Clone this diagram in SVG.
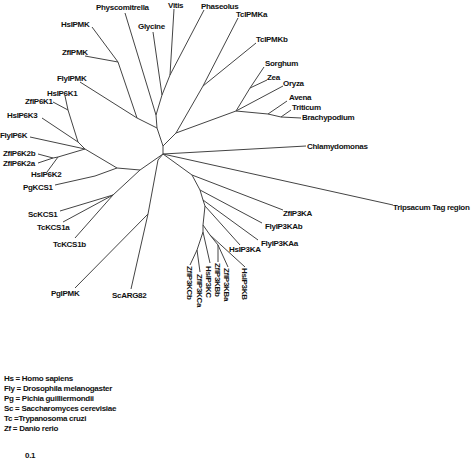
<svg xmlns="http://www.w3.org/2000/svg" width="474" height="459" viewBox="0 0 474 459">
<style>
text{font-family:"Liberation Sans",Arial,sans-serif;font-size:8px;font-weight:bold;letter-spacing:-0.3px;fill:#111}
.e{stroke:#444;stroke-width:1;fill:none}
</style>
<rect width="474" height="459" fill="#fff"/>
<g id="connectors" class="e">
<path d="M163,146 L163,154"/>
<path d="M163,146 L157,128 L137,118 L80,82"/>
<path d="M137,118 L118,62 L92,27"/>
<path d="M118,62 L85,56"/>
<path d="M157,128 L156,115 L125,13"/>
<path d="M156,115 L162,95 L153,32"/>
<path d="M162,95 L170,75 L174,9"/>
<path d="M170,75 L204,10"/>
<path d="M163,146 L176,133 L203,86 L238,18"/>
<path d="M203,86 L256,43"/>
<path d="M176,133 L236,111 L250,88 L264,67"/>
<path d="M250,88 L267,80"/>
<path d="M236,111 L283,86"/>
<path d="M236,111 L268,114 L287,101"/>
<path d="M268,114 L281,117 L291,110"/>
<path d="M281,117 L301,118"/>
<path d="M163,154 L306,146"/>
<path d="M163,154 L393,205"/>
<path d="M163,154 L192,175 L283,210"/>
<path d="M192,175 L200,190 L262,223"/>
<path d="M200,190 L203,200 L258,240"/>
<path d="M203,200 L205,206 L240,245"/>
<path d="M205,206 L203,225 L210,235 L245,267"/>
<path d="M210,235 L218,245 L228,267"/>
<path d="M218,245 L218,262"/>
<path d="M203,225 L203,232 L210,263"/>
<path d="M203,232 L197,250 L200,272"/>
<path d="M197,250 L190,265"/>
<path d="M163,154 L140,170 L117,168 L85,149 L30,137"/>
<path d="M85,149 L78,142 L42,118"/>
<path d="M78,142 L68,110 L65,96"/>
<path d="M68,110 L53,102"/>
<path d="M85,149 L58,157 L47,172"/>
<path d="M58,157 L53,158 L38,154"/>
<path d="M53,158 L38,163"/>
<path d="M117,168 L95,176 L55,185"/>
<path d="M140,170 L113,195 L63,222"/>
<path d="M113,195 L60,211"/>
<path d="M113,195 L75,238"/>
<path d="M163,154 L158,160 L148,214 L75,288"/>
<path d="M148,214 L131,289"/>
</g>
<g id="n-physcomitrella"><text x="96" y="10">Physcomitrella</text></g>
<g id="n-vitis"><text x="168" y="8">Vitis</text></g>
<g id="n-phaseolus"><text x="201" y="9">Phaseolus</text></g>
<g id="n-tcipmka"><text x="236" y="17">TcIPMKa</text></g>
<g id="n-hsipmk"><text x="61" y="27">HsIPMK</text></g>
<g id="n-glycine"><text x="138" y="29">Glycine</text></g>
<g id="n-tcipmkb"><text x="256" y="42">TcIPMKb</text></g>
<g id="n-zfipmk"><text x="62" y="55">ZfIPMK</text></g>
<g id="n-sorghum"><text x="265" y="66">Sorghum</text></g>
<g id="n-zea"><text x="267" y="80">Zea</text></g>
<g id="n-oryza"><text x="283" y="86">Oryza</text></g>
<g id="n-flyipmk"><text x="57" y="81">FlyIPMK</text></g>
<g id="n-avena"><text x="289" y="100">Avena</text></g>
<g id="n-hsip6k1"><text x="47" y="96">HsIP6K1</text></g>
<g id="n-triticum"><text x="292" y="110">Triticum</text></g>
<g id="n-zfip6k1"><text x="25" y="104">ZfIP6K1</text></g>
<g id="n-brachypodium"><text x="302" y="120">Brachypodium</text></g>
<g id="n-hsip6k3"><text x="7" y="118">HsIP6K3</text></g>
<g id="n-chlamydomonas"><text x="307" y="149">Chlamydomonas</text></g>
<g id="n-flyip6k"><text x="0" y="138">FlyIP6K</text></g>
<g id="n-zfip6k2b"><text x="3" y="156">ZfIP6K2b</text></g>
<g id="n-zfip6k2a"><text x="3" y="166">ZfIP6K2a</text></g>
<g id="n-hsip6k2"><text x="31" y="177">HsIP6K2</text></g>
<g id="n-pgkcs1"><text x="23" y="190">PgKCS1</text></g>
<g id="n-sckcs1"><text x="28" y="217">ScKCS1</text></g>
<g id="n-tckcs1a"><text x="37" y="230">TcKCS1a</text></g>
<g id="n-tckcs1b"><text x="53" y="247">TcKCS1b</text></g>
<g id="n-tripsacum"><text x="393" y="210">Tripsacum Tag region</text></g>
<g id="n-zfip3ka"><text x="283" y="216">ZfIP3KA</text></g>
<g id="n-flyip3kab"><text x="265" y="229">FlyIP3KAb</text></g>
<g id="n-flyip3kaa"><text x="261" y="246">FlyIP3KAa</text></g>
<g id="n-hsip3ka"><text x="229" y="252">HsIP3KA</text></g>
<g id="n-pgipmk"><text x="51" y="296">PgIPMK</text></g>
<g id="n-scarg82"><text x="112" y="298">ScARG82</text></g>
<g id="n-zfip3kcb"><text transform="translate(187,266) rotate(90)">ZfIP3KCb</text></g>
<g id="n-zfip3kca"><text transform="translate(197,274) rotate(90)">ZfIP3KCa</text></g>
<g id="n-hsip3kc"><text transform="translate(206,266) rotate(90)">HsIP3KC</text></g>
<g id="n-zfip3kbb"><text transform="translate(215,263) rotate(90)">ZfIP3KBb</text></g>
<g id="n-zfip3kba"><text transform="translate(224,268) rotate(90)">ZfIP3KBa</text></g>
<g id="n-hsip3kb"><text transform="translate(242,268) rotate(90)">HsIP3KB</text></g>
<g id="legend">
<text x="4" y="381">Hs = Homo sapiens</text>
<text x="4" y="391">Fly = Drosophila melanogaster</text>
<text x="4" y="401">Pg = Pichia guilliermondii</text>
<text x="4" y="411">Sc = Saccharomyces cerevisiae</text>
<text x="4" y="421">Tc =Trypanosoma cruzi</text>
<text x="4" y="431">Zf = Danio rerio</text>
<text x="25" y="458">0.1</text>
</g>
</svg>
